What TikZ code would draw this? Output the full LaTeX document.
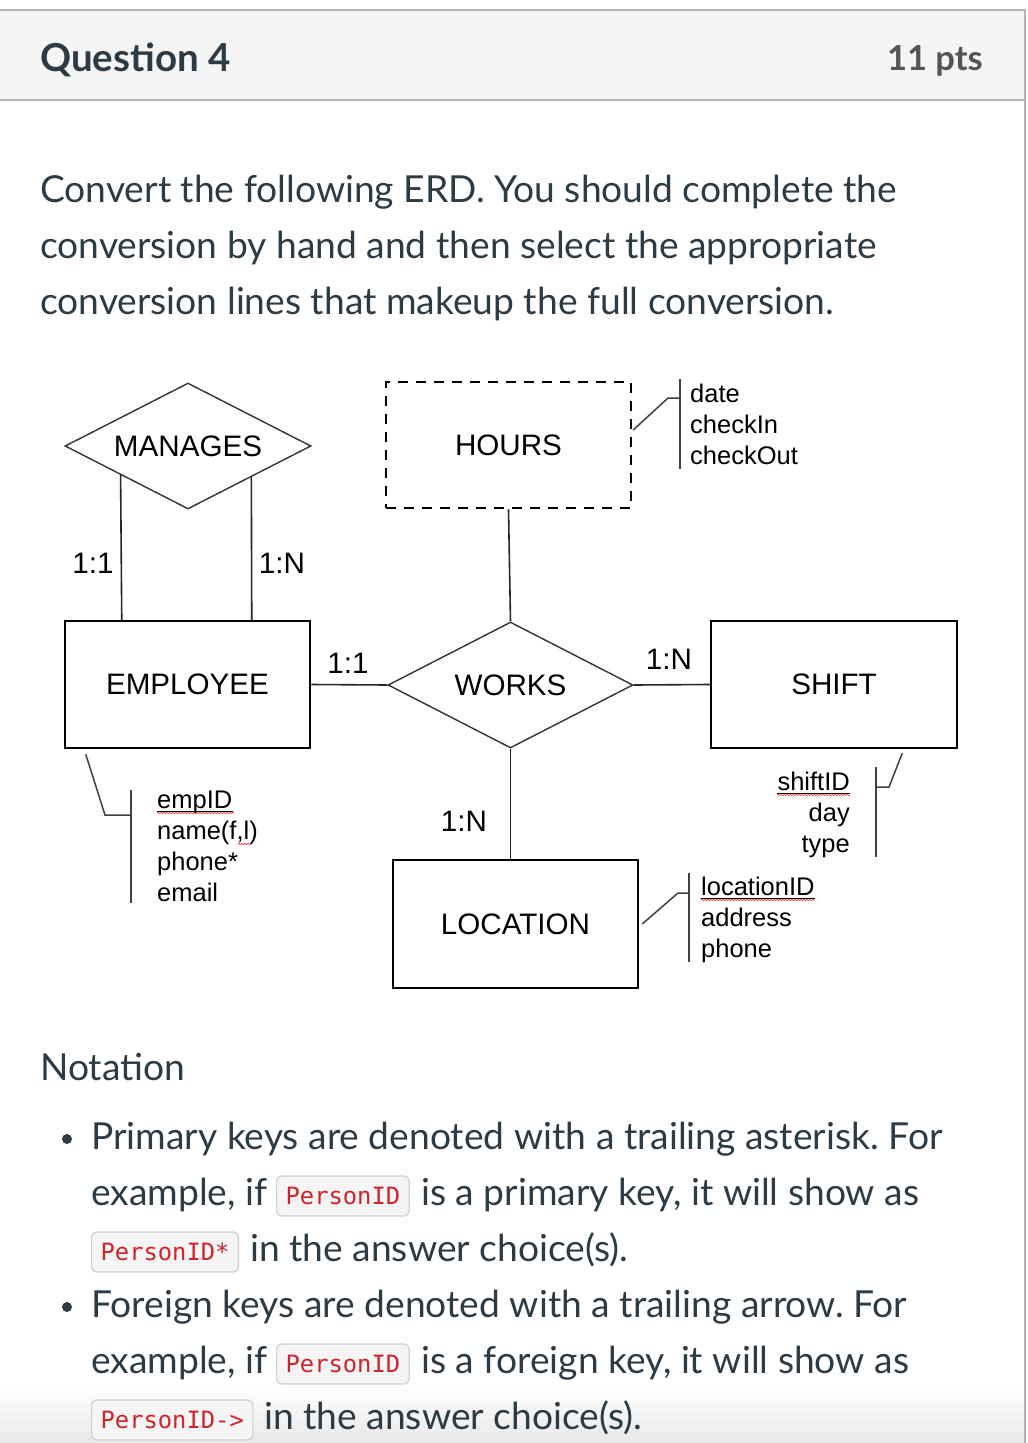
\documentclass[tikz,border=0pt]{standalone}
\usepackage{fontspec}
\usepackage{tikz}
\usetikzlibrary{shapes.geometric,decorations.pathmorphing,calc}
\setmainfont{Lato}
\newfontfamily\arialfont{Liberation Sans}
\newfontfamily\monofont{DejaVu Sans Mono}
\frenchspacing

\definecolor{canvastext}{HTML}{2D3B45}
\definecolor{ptsgray}{HTML}{555555}
\definecolor{headerbg}{HTML}{F5F5F5}
\definecolor{headerline}{HTML}{B4B4B4}
\definecolor{codered}{HTML}{D0222B}
\definecolor{codebg}{HTML}{F5F5F5}
\definecolor{codeline}{HTML}{CFCFCF}

\newcommand\erdfont{\arialfont\fontsize{29.6}{34}\selectfont}
\newcommand\attrfont{\arialfont\fontsize{25.5}{31}\selectfont}
\newcommand\bodyfont{\fontsize{37.2}{56}\selectfont}
\newcommand\headfont{\fontsize{38.5}{44}\selectfont}
\newcommand\codefont{\monofont\fontsize{23.8}{28}\selectfont}

\tikzset{
  entity/.style={draw, line width=2.5pt, minimum width=245pt, minimum height=127pt, inner sep=0pt, font=\erdfont},
  relation/.style={diamond, draw=black!80, line width=1.4pt, aspect=2, minimum width=246pt, minimum height=126pt, inner sep=0pt, font=\erdfont},
  card/.style={font=\erdfont, inner sep=0pt},
  attr/.style={font=\attrfont, inner sep=0pt, anchor=base west},
  link/.style={line width=1.6pt, black!85},
  bracket/.style={line width=1.5pt, black!75},
  spell/.style={red!80, line width=0.6pt, decorate, decoration={snake, segment length=3pt, amplitude=0.8pt}},
  codebox/.style={draw=codeline, line width=1.2pt, fill=codebg, rounded corners=5pt, text=codered, font=\codefont, minimum height=40pt, inner xsep=9pt, anchor=west},
  body/.style={anchor=base west, inner sep=0pt, text=canvastext, font=\bodyfont}
}

\begin{document}
\begin{tikzpicture}[x=1pt,y=-1pt]
\useasboundingbox (0,0) rectangle (1028,1443);
\fill[white] (0,0) rectangle (1028,1443);
\shade[top color=white, bottom color=black!9] (0,1385) rectangle (1025,1443);

% header
\fill[headerbg] (0,10) rectangle (1025,100);
\draw[headerline, line width=2pt] (0,10) -- (1025,10) -- (1025,1443);
\draw[headerline, line width=2pt] (0,100) -- (1025,100);
\node[body, font=\headfont\bfseries] (qtitle) at (40,71) {Question 4};
\node[anchor=base east, inner sep=0pt, text=ptsgray, font=\fontsize{34.5}{40}\selectfont\bfseries] (qpts) at (983,70) {11 pts};

% question text
\node[body] (line1) at (40,202) {Convert the following ERD. You should complete the};
\node[body] (line2) at (40,258) {conversion by hand and then select the appropriate};
\node[body] (line3) at (40,314) {conversion lines that makeup the full conversion.};

% ERD
\node[relation] (manages) at (188,446) {MANAGES};
\node[entity] (employee) at (187.5,684.5) {EMPLOYEE};
\node[entity, dash pattern=on 10pt off 8pt, minimum height=126pt] (hours) at (508.5,445) {HOURS};
\node[relation, minimum width=245pt] (works) at (510.5,685) {WORKS};
\node[entity, minimum width=246pt] (shift) at (834,684.5) {SHIFT};
\node[entity, minimum height=128pt] (location) at (515.5,924) {LOCATION};

\draw[link] ($(manages.west)!0.455!(manages.south)$) -- ([xshift=58pt]employee.north west);
\draw[link] ($(manages.south)!0.512!(manages.east)$) -- ([xshift=188pt]employee.north west);
\draw[link] (employee.east) -- (works.west);
\draw[link] (works.east) -- (shift.west);
\draw[link] (hours.south) -- (works.north);
\draw[link] (works.south) -- (works.south |- location.north);

\node[card] (cardmgr) at (93,563) {1:1};
\node[card] (cardsub) at (282,563) {1:N};
\node[card] (cardemp) at (348,663) {1:1};
\node[card] (cardshift) at (669,659) {1:N};
\node[card] (cardloc) at (464,821) {1:N};

% hours attributes
\coordinate (hoursknee) at (668,398);
\coordinate (hoursbar) at (680,398);
\draw[bracket] ([xshift=1pt,yshift=15pt]hours.east) -- (hoursknee) -- (hoursbar);
\draw[bracket] (680,379) -- (680,469);
\node[attr] (hdate) at (690,402) {date};
\node[attr] (hin) at (690,433) {checkIn};
\node[attr] (hout) at (690,464) {checkOut};

% employee attributes
\coordinate (empknee) at (105,815);
\coordinate (empbar) at (131,815);
\draw[bracket] ([xshift=22pt,yshift=-5pt]employee.south west) -- (empknee) -- (empbar);
\draw[bracket] (131,790) -- (131,903);
\node[attr] (eid) at (157,808) {empID};
\node[attr] (ename) at (157,839) {name(f,l)};
\node[attr] (ephone) at (157,870) {phone*};
\node[attr] (email) at (157,901) {email};
\draw[line width=1pt] ([yshift=-3pt]eid.base west) -- ([yshift=-3pt]eid.base east);
\draw[spell] ([yshift=-5pt]eid.base west) -- ([yshift=-5pt,xshift=2pt]eid.base east);
\draw[spell] ([xshift=-20pt,yshift=-5pt]ename.base east) -- ([xshift=-7pt,yshift=-5pt]ename.base east);

% shift attributes
\coordinate (shiftknee) at (889,787);
\coordinate (shiftbar) at (876,787);
\draw[bracket] ([xshift=-56pt,yshift=-4pt]shift.south east) -- (shiftknee) -- (shiftbar);
\draw[bracket] (876,767) -- (876,857);
\node[attr, anchor=base east] (sid) at (850,790) {shiftID};
\node[attr, anchor=base east] (sday) at (850,821) {day};
\node[attr, anchor=base east] (stype) at (850,852) {type};
\draw[line width=1pt] ([yshift=-3pt]sid.base west) -- ([yshift=-3pt]sid.base east);
\draw[spell] ([yshift=-5pt]sid.base west) -- ([yshift=-5pt]sid.base east);

% location attributes
\coordinate (locknee) at (678,893);
\coordinate (locbar) at (689,893);
\draw[bracket] ([xshift=3pt]location.east) -- (locknee) -- (locbar);
\draw[bracket] (689,873) -- (689,962);
\node[attr] (lid) at (701,895) {locationID};
\node[attr] (laddr) at (701,926) {address};
\node[attr] (lphone) at (701,957) {phone};
\draw[line width=1pt] ([yshift=-3pt]lid.base west) -- ([yshift=-3pt]lid.base east);
\draw[spell] ([yshift=-5pt]lid.base west) -- ([yshift=-5pt]lid.base east);

% notation
\node[body] (notation) at (40,1080) {Notation};
\fill[canvastext] (67,1139) circle (5pt);
\node[body] (pk1) at (91,1149) {Primary keys are denoted with a trailing asterisk. For};
\node[body] (pk2a) at (91,1205) {example, if};
\node[codebox] (pkcode) at (276,1196) {PersonID};
\node[body] (pk2b) at (421,1205) {is a primary key, it will show as};
\node[codebox] (pkstar) at (91,1252) {PersonID*};
\node[body] (pk3) at (250,1261) {in the answer choice(s).};
\fill[canvastext] (67,1307) circle (5pt);
\node[body] (fk1) at (91,1317) {Foreign keys are denoted with a trailing arrow. For};
\node[body] (fk2a) at (91,1373) {example, if};
\node[codebox] (fkcode) at (276,1364) {PersonID};
\node[body] (fk2b) at (421,1373) {is a foreign key, it will show as};
\node[codebox] (fkarrow) at (91,1420) {PersonID->};
\node[body] (fk3) at (264,1429) {in the answer choice(s).};
\end{tikzpicture}
\end{document}
